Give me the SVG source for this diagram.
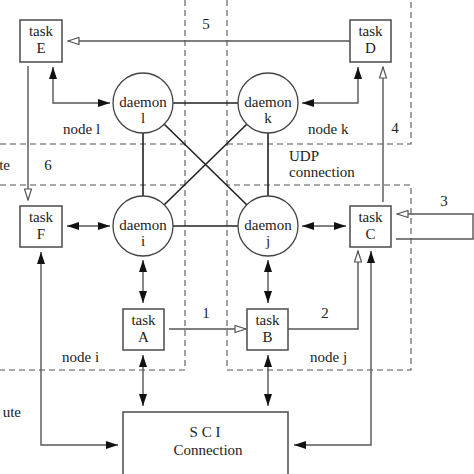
<svg xmlns="http://www.w3.org/2000/svg" width="474" height="474" viewBox="0 0 474 474" font-family="'Liberation Serif', 'DejaVu Serif', serif">
<style>
text{font-family:'Liberation Serif','DejaVu Serif',serif;font-size:15px;fill:#222}
.c{text-anchor:middle}
.box{fill:#fff;stroke:#555;stroke-width:1.6}
.circ{fill:#fff;stroke:#444;stroke-width:1.3}
.dash{fill:none;stroke:#555;stroke-width:1.1;stroke-dasharray:6,4}
.link{fill:none;stroke:#222;stroke-width:1.6}
.arr{fill:none;stroke:#555;stroke-width:1.4}
</style>
<defs>
<marker id="fa" viewBox="0 0 12 8" refX="12" refY="4" markerWidth="12" markerHeight="8" markerUnits="userSpaceOnUse" orient="auto-start-reverse"><path d="M0,0 L12,4 L0,8 z" fill="#111"/></marker>
<marker id="oa" viewBox="0 0 13 9" refX="12" refY="4.5" markerWidth="13" markerHeight="9" markerUnits="userSpaceOnUse" orient="auto-start-reverse"><path d="M1,1 L12,4.5 L1,8 z" fill="#fff" stroke="#555" stroke-width="1.2"/></marker>
</defs>
<rect width="474" height="474" fill="#fff"/>
<g id="regions">
<path class="dash" d="M185,0 V370 H0"/>
<path class="dash" d="M0,144 H185 M0,185 H185"/>
<path class="dash" d="M227,0 V370 H411 V185 H227"/>
<path class="dash" d="M227,144 H411 V0"/>
<text x="63" y="134">node l</text>
<text x="308" y="134">node k</text>
<text x="62" y="362">node i</text>
<text x="310" y="362">node j</text>
<text x="289" y="161">UDP</text>
<text x="289" y="177">connection</text>
<text x="10" y="170" text-anchor="end">te</text>
<text x="21" y="417" text-anchor="end">ute</text>
</g>
<g id="connectors">
<path class="link" d="M173,103 H238 M173,226 H238 M143,133 V196 M268,133 V196 M164,124 L247,205 M164,205 L247,124"/>
<path class="arr" d="M350,41 H68" marker-end="url(#oa)"/>
<path class="arr" d="M28,66 V200" marker-end="url(#oa)"/>
<path class="arr" d="M53,67 V103 H110" marker-start="url(#fa)" marker-end="url(#fa)"/>
<path class="arr" d="M358,67 V103 H302" marker-start="url(#fa)" marker-end="url(#fa)"/>
<path class="arr" d="M383,202 V67" marker-end="url(#oa)"/>
<path class="arr" d="M67,226 H110" marker-start="url(#fa)" marker-end="url(#fa)"/>
<path class="arr" d="M302,226 H346" marker-start="url(#fa)" marker-end="url(#fa)"/>
<path class="arr" d="M396,239 H473 V214 H397" marker-end="url(#oa)"/>
<path class="arr" d="M143,260 V303" marker-start="url(#fa)" marker-end="url(#fa)"/>
<path class="arr" d="M143,355 V406" marker-start="url(#fa)" marker-end="url(#fa)"/>
<path class="arr" d="M268,260 V303" marker-start="url(#fa)" marker-end="url(#fa)"/>
<path class="arr" d="M268,355 V406" marker-start="url(#fa)" marker-end="url(#fa)"/>
<path class="arr" d="M169,329 H246" marker-end="url(#oa)"/>
<path class="arr" d="M288,329 H358 V251" marker-end="url(#oa)"/>
<path class="arr" d="M371,251 V445 H294" marker-start="url(#fa)" marker-end="url(#fa)"/>
<path class="arr" d="M41,252 V445 H118" marker-start="url(#fa)" marker-end="url(#fa)"/>
<text class="c" x="206" y="29">5</text>
<text class="c" x="48" y="170">6</text>
<text class="c" x="395" y="133">4</text>
<text class="c" x="444" y="206">3</text>
<text class="c" x="206" y="318">1</text>
<text class="c" x="325" y="318">2</text>
</g>
<g id="taskE"><rect class="box" x="20" y="20" width="42" height="42"/><text class="c" x="41" y="36">task</text><text class="c" x="41" y="53">E</text></g>
<g id="taskD"><rect class="box" x="350" y="20" width="41" height="42"/><text class="c" x="370.5" y="36">task</text><text class="c" x="370.5" y="53">D</text></g>
<g id="taskF"><rect class="box" x="20" y="206" width="42" height="41"/><text class="c" x="41" y="222">task</text><text class="c" x="41" y="239">F</text></g>
<g id="taskC"><rect class="box" x="350" y="206" width="41" height="41"/><text class="c" x="370.5" y="222">task</text><text class="c" x="370.5" y="239">C</text></g>
<g id="taskA"><rect class="box" x="123" y="309" width="41" height="41"/><text class="c" x="143.5" y="325">task</text><text class="c" x="143.5" y="342">A</text></g>
<g id="taskB"><rect class="box" x="247" y="309" width="41" height="41"/><text class="c" x="267.5" y="325">task</text><text class="c" x="267.5" y="342">B</text></g>
<g id="daemonL"><circle class="circ" cx="143" cy="103" r="30"/><text class="c" x="143" y="107">daemon</text><text class="c" x="143" y="123">l</text></g>
<g id="daemonK"><circle class="circ" cx="268" cy="103" r="30"/><text class="c" x="268" y="107">daemon</text><text class="c" x="268" y="123">k</text></g>
<g id="daemonI"><circle class="circ" cx="143" cy="226" r="30"/><text class="c" x="143" y="230">daemon</text><text class="c" x="143" y="246">i</text></g>
<g id="daemonJ"><circle class="circ" cx="268" cy="226" r="30"/><text class="c" x="268" y="230">daemon</text><text class="c" x="268" y="246">j</text></g>
<g id="sci"><rect class="box" x="123" y="412" width="165" height="80"/><text class="c" x="205" y="437">S C I</text><text class="c" x="208" y="455">Connection</text></g>
</svg>
